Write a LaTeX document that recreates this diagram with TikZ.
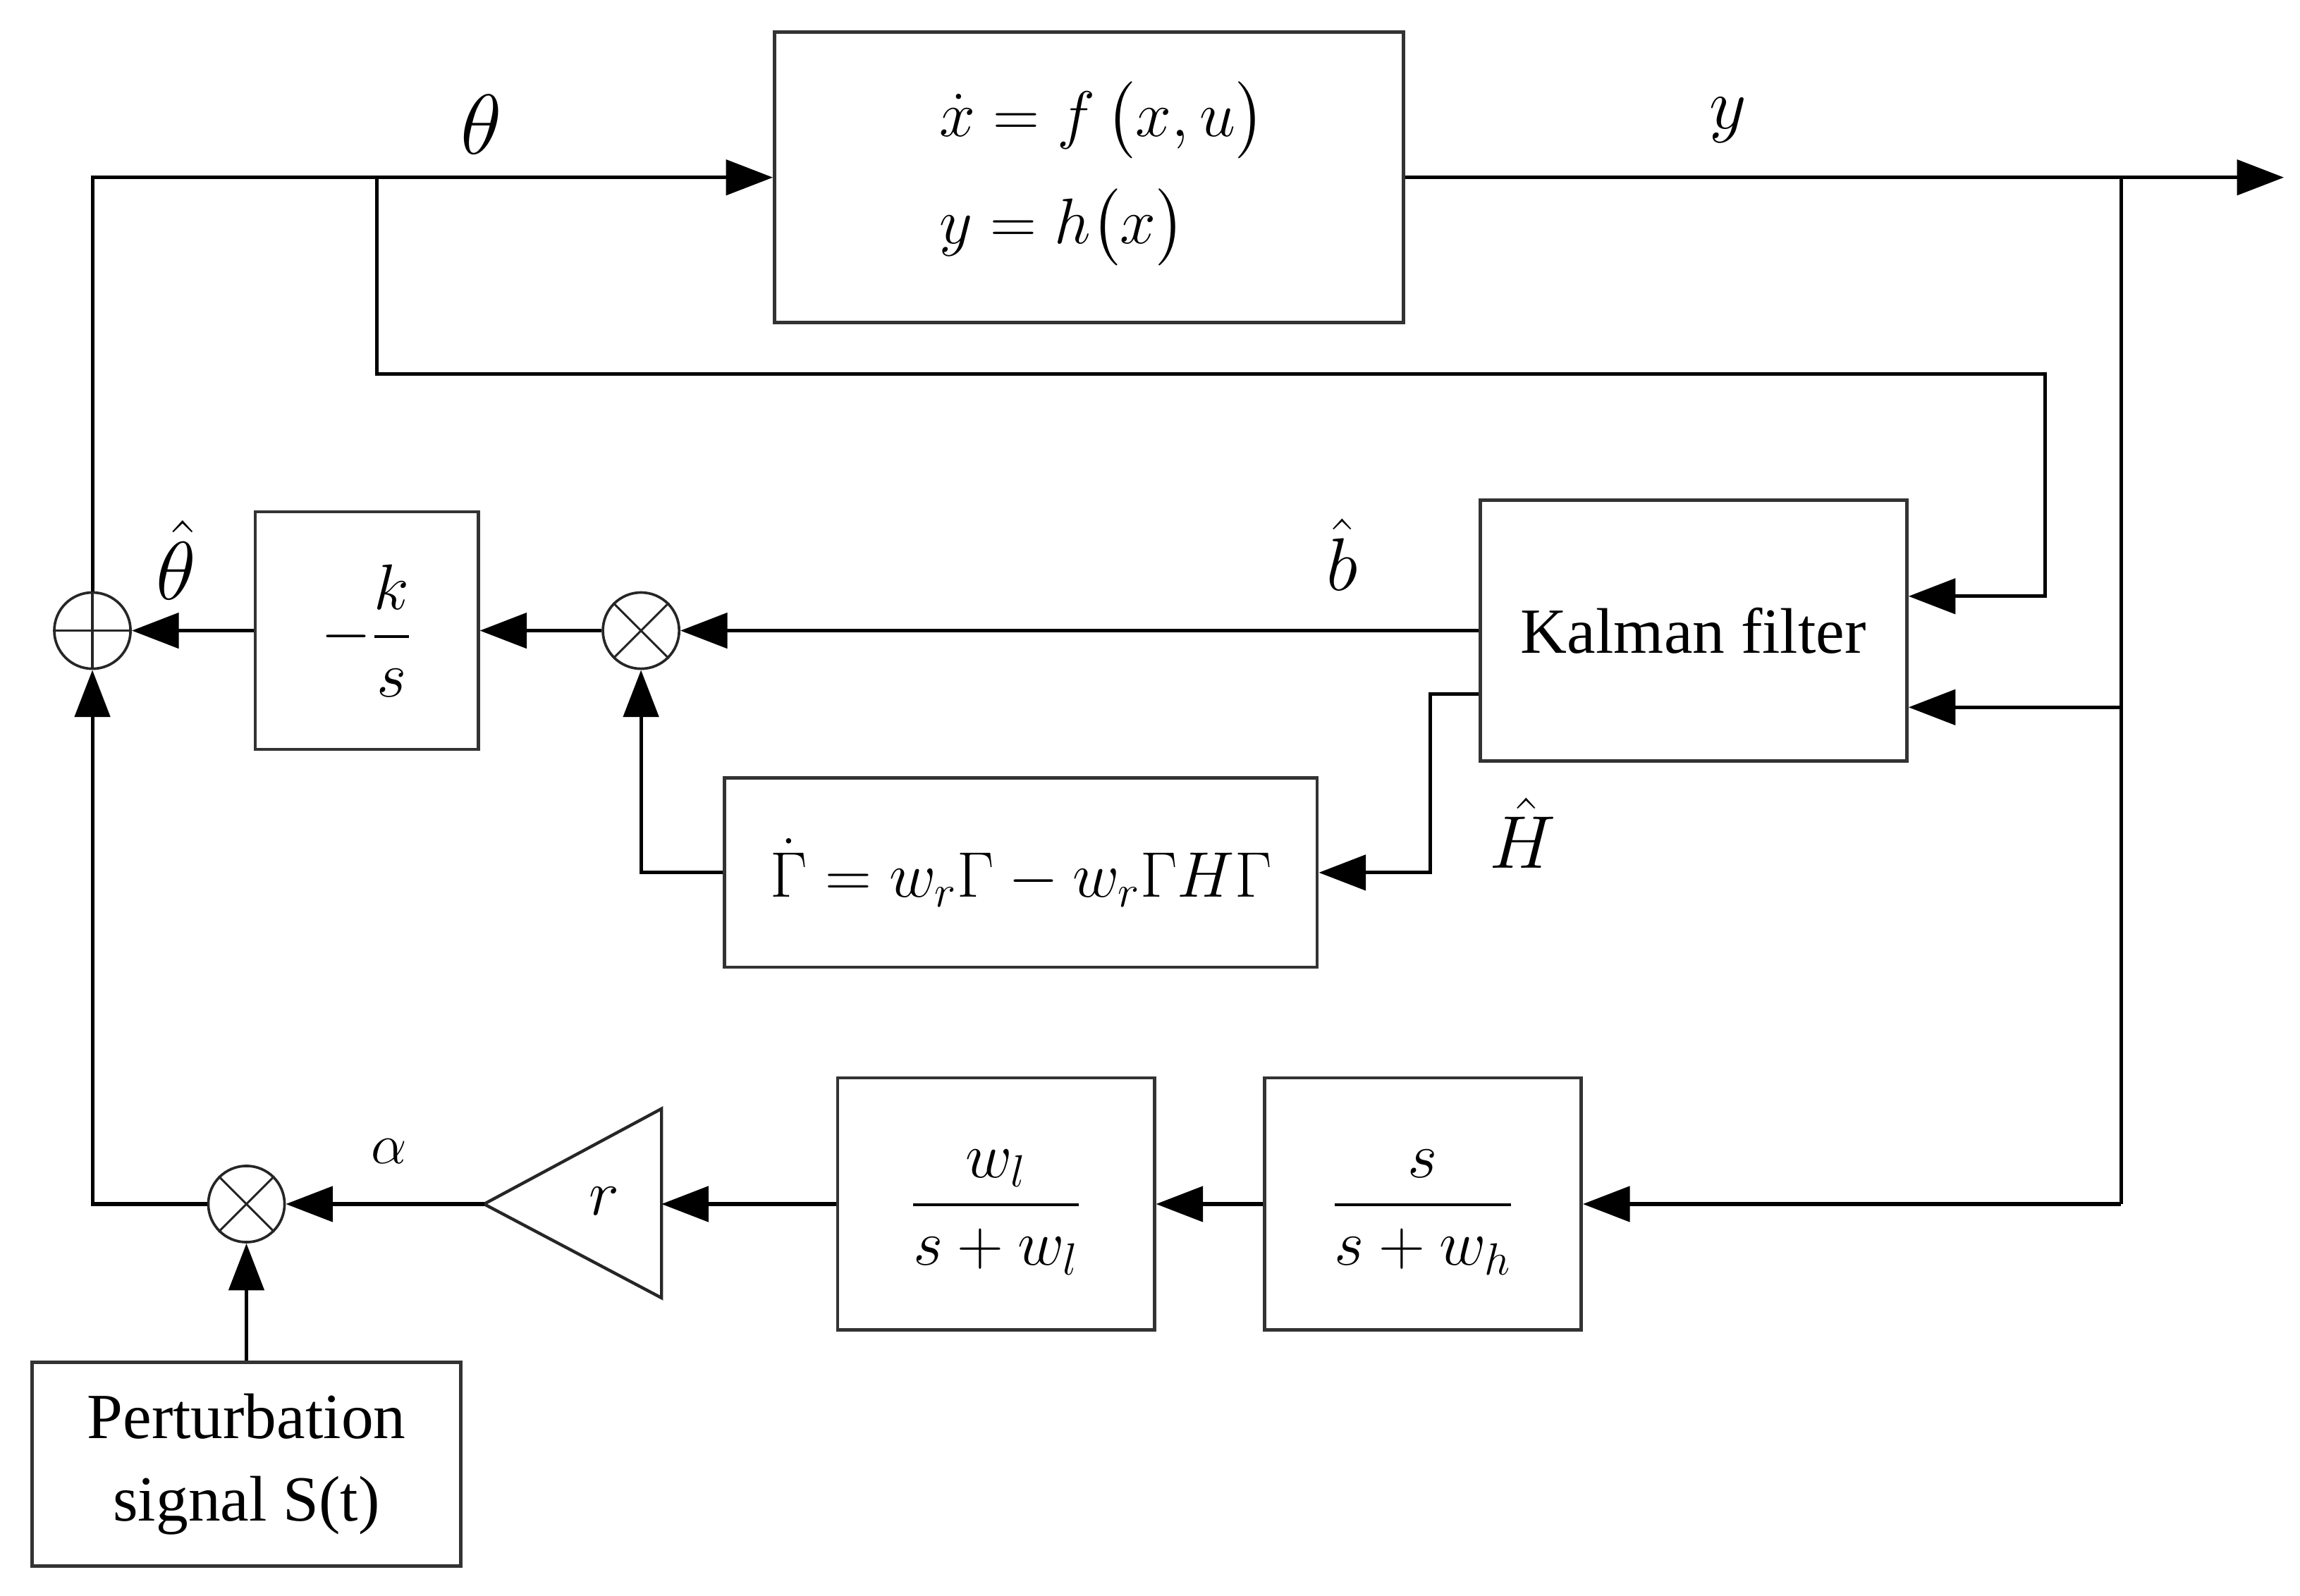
\RequirePackage{fix-cm}
\documentclass[tikz,border=0pt]{standalone}
\usepackage{amsmath}
\usepackage{fontspec}
\setmainfont{Liberation Serif}
\usetikzlibrary{arrows.meta,calc}
\begin{document}
\begin{tikzpicture}[x=0.02cm,y=-0.02cm,
  wire/.style={line width=1.4pt, draw=black},
  arr/.style={wire,-{Triangle[length=0.64cm,width=0.48cm]}},
  blk/.style={draw=black!80, line width=1.3pt, rectangle, inner sep=0pt, fill=white},
  txt/.style={font=\fontsize{25}{30}\selectfont, inner sep=0pt},
  junc/.style={draw=black!85, line width=1pt, circle, minimum size=1.04cm, inner sep=0pt, fill=white},
  lbl/.style={font=\fontsize{28}{32}\selectfont, inner sep=0pt}]
\useasboundingbox (0,0) rectangle (1568,1088);

% blocks
\node[blk, minimum width=8.58cm, minimum height=3.96cm] (plant) at (742.5,121) {};
\node[txt, anchor=west] (eq1) at (640,82) {$\dot{x} = f\,\bigl(x,u\bigr)$};
\node[txt, anchor=west] (eq2) at (640,155) {$y = h\bigl(x\bigr)$};
\node[blk, txt, minimum width=5.82cm, minimum height=3.56cm] (kf) at (1154.5,430) {Kalman filter};
\node[blk, txt, minimum width=8.08cm, minimum height=2.58cm] (gam) at (696,595) {$\dot{\Gamma} = w_r\Gamma - w_r\Gamma H\Gamma$};
\node[blk, txt, minimum width=3.04cm, minimum height=3.24cm] (ks) at (250,430) {$-\dfrac{k}{s}$};
\node[blk, txt, minimum width=4.32cm, minimum height=3.44cm] (wl) at (679,821) {$\dfrac{w_l\vphantom{W_l}}{s+w_l}$};
\node[blk, txt, minimum width=4.32cm, minimum height=3.44cm] (wh) at (970,821) {$\dfrac{s\vphantom{W_l}}{s+w_h}$};
\node[blk, txt, minimum width=5.84cm, minimum height=2.78cm, align=center] (pert) at (168,998.5) {Perturbation\\[2pt]signal S(t)};

% junctions
\node[junc] (sum) at (63,430) {};
\draw[black!85, line width=1pt] (sum.north) -- (sum.south) (sum.west) -- (sum.east);
\node[junc] (m1) at (437,430) {};
\draw[black!85, line width=0.8pt] (m1.north west) -- (m1.south east) (m1.north east) -- (m1.south west);
\node[junc] (m2) at (168,821) {};
\draw[black!85, line width=0.8pt] (m2.north west) -- (m2.south east) (m2.north east) -- (m2.south west);

% gain triangle
\coordinate (gtip) at (330,821);
\coordinate (gbase) at (451,821);
\draw[black!85, line width=1.2pt] (gtip) -- (451,756) -- (451,885) -- cycle;
\node[txt] (gr) at (412,819) {$r$};

% coordinates
\coordinate (tl) at (63,121);
\coordinate (br) at (257,121);
\coordinate (out) at (1557,121);
\coordinate (rv) at (1446,121);
\coordinate (kin1) at ($(kf.north east)!0.37!(kf.south east)$);
\coordinate (kin2) at ($(kf.north east)!0.79!(kf.south east)$);
\coordinate (kH) at ($(kf.north west)!0.74!(kf.south west)$);
\coordinate (rvk) at (rv |- kin2);
\coordinate (rvb) at (rv |- wh.east);

% connectors
\draw[arr] (sum.north) -- (tl) -- (plant.west);
\draw[arr] (br) |- (1394,255) |- (kin1);
\draw[arr] (plant.east) -- (out);
\draw[wire] (rv) -- (rvb);
\draw[arr] (rvk) -- (kin2);
\draw[arr] (rvb) -- (wh.east);
\draw[arr] (kf.west) -- (m1.east);
\draw[arr] (kH) -| (975,595) -- (gam.east);
\draw[arr] (gam.west) -| (m1.south);
\draw[arr] (m1.west) -- (ks.east);
\draw[arr] (ks.west) -- (sum.east);
\draw[arr] (wh.west) -- (wl.east);
\draw[arr] (wl.west) -- (gbase);
\draw[arr] (gtip) -- (m2.east);
\draw[arr] (m2.west) -| (sum.south);
\draw[arr] (pert.north) -- (m2.south);

% labels
\node[lbl, font=\fontsize{33}{37}\selectfont] (lth) at (328,85) {$\theta$};
\node[lbl] (ly) at (1178,82) {$y$};
\node[lbl, font=\fontsize{32}{36}\selectfont] (lthh) at (120,382) {$\hat{\theta}$};
\node[lbl, font=\fontsize{29}{33}\selectfont] (lb) at (915,378) {$\hat{b}$};
\node[lbl, font=\fontsize{29}{33}\selectfont] (lH) at (1038,568) {$\hat{H}$};
\node[lbl, font=\fontsize{22}{26}\selectfont] (la) at (265,785) {$\alpha$};
\end{tikzpicture}
\end{document}
